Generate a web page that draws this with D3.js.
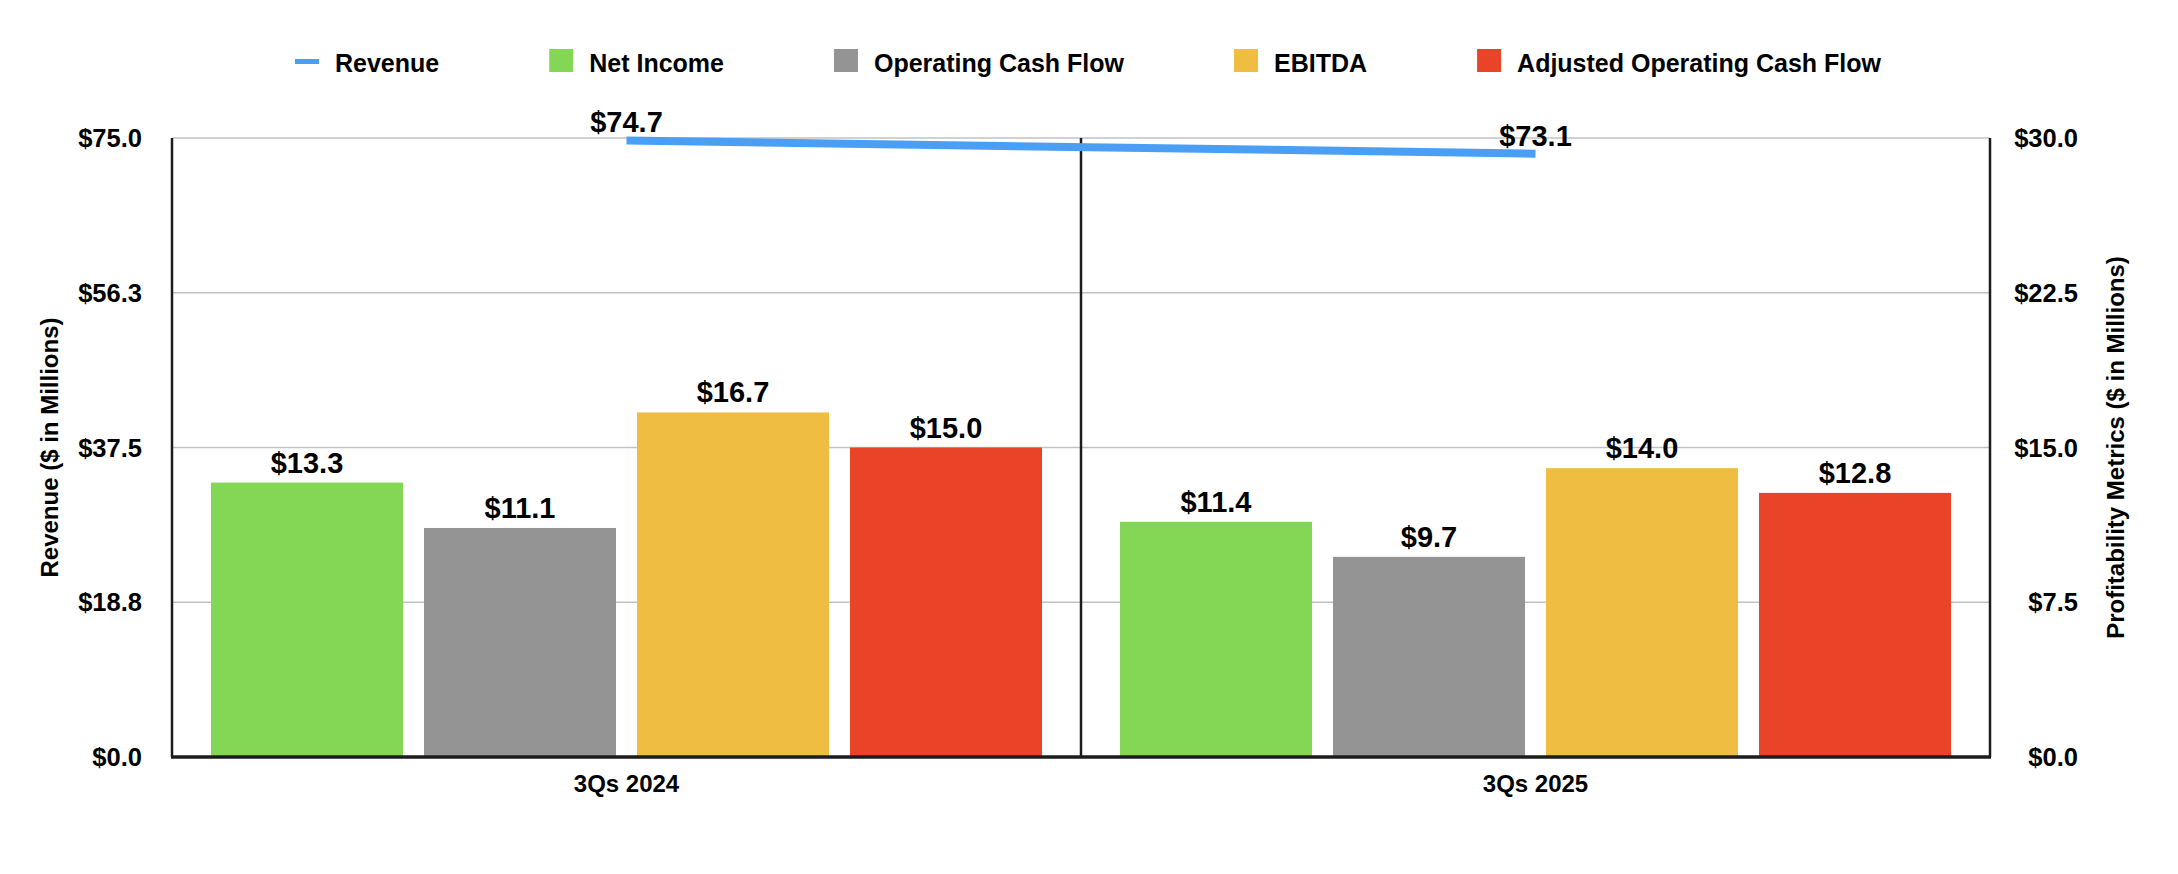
<!DOCTYPE html>
<html>
<head>
<meta charset="utf-8">
<script src="https://cdn.jsdelivr.net/npm/d3@7"></script>
<style>
	body { margin: 0; background: #ffffff; }
	svg text { font-family: "Liberation Sans", Arial, Helvetica, sans-serif; font-weight: bold; fill: #000000; }
</style>
</head>
<body>
<svg id="chart" width="2178" height="874"></svg>
<script>

// data
const periods = ["3Qs 2024", "3Qs 2025"];
const revenue = [74.7, 73.1];
const metrics = ["Net Income", "Operating Cash Flow", "EBITDA", "Adjusted Operating Cash Flow"];
const netIncome = [13.3, 11.4];
const operatingCashFlow = [11.1, 9.7];
const ebitda = [16.7, 14.0];
const adjustedOperatingCashFlow = [15.0, 12.8];
const revenueTicks = [0, 18.75, 37.5, 56.25, 75];
const metricTicks = [0, 7.5, 15, 22.5, 30];

const metric_colors = ["#84d754", "#949494", "#eebd42", "#e94428"];
const revenue_color = "#4a9ff5";

function whenDocumentLoaded(action) {
	if (document.readyState === "loading") {
		document.addEventListener("DOMContentLoaded", action);
	} else {
		action();
	}
}

function drawChart() {
	const svg = d3.select("#chart");

	const left = 172, right = 1990, top = 138, bottom = 757;
	const fmt = d3.format("$.1f");

	const metric_values = [netIncome, operatingCashFlow, ebitda, adjustedOperatingCashFlow];
	const bar_data = [];
	periods.forEach((p, i) => {
		metrics.forEach((m, j) => {
			bar_data.push({period: p, metric: m, value: metric_values[j][i], color: metric_colors[j]});
		});
	});

	const x_group = d3.scaleBand().domain(periods).range([left, right]).padding(0);
	const x_bar = d3.scaleBand().domain(metrics).range([0, x_group.bandwidth()])
		.paddingInner(0.0986).paddingOuter(0.183);

	const y_rev = d3.scaleLinear().domain([0, 75]).range([bottom, top]);
	const y_met = d3.scaleLinear().domain([0, 30]).range([bottom, top]);

	// gridlines
	svg.append("g")
		.selectAll("line")
		.data(revenueTicks.slice(1))
		.enter()
		.append("line")
			.attr("x1", left).attr("x2", right)
			.attr("y1", d => y_rev(d)).attr("y2", d => y_rev(d))
			.style("stroke", "#c2c2c2")
			.style("stroke-width", "1.5px");

	// bars
	svg.append("g")
		.selectAll("rect")
		.data(bar_data)
		.enter()
		.append("rect")
			.attr("x", d => x_group(d.period) + x_bar(d.metric))
			.attr("y", d => y_met(d.value))
			.attr("width", x_bar.bandwidth())
			.attr("height", d => bottom - y_met(d.value))
			.style("fill", d => d.color);

	svg.append("g")
		.selectAll("text")
		.data(bar_data)
		.enter()
		.append("text")
			.attr("x", d => x_group(d.period) + x_bar(d.metric) + x_bar.bandwidth() / 2)
			.attr("y", d => y_met(d.value) - 10)
			.attr("text-anchor", "middle")
			.style("font-size", "29px")
			.text(d => fmt(d.value));

	// frame lines
	const frame = svg.append("g").style("stroke", "#1c1c1c");
	frame.append("line").attr("x1", left).attr("x2", left).attr("y1", top).attr("y2", bottom).style("stroke-width", "2.5px");
	frame.append("line").attr("x1", right).attr("x2", right).attr("y1", top).attr("y2", bottom).style("stroke-width", "2.5px");
	frame.append("line").attr("x1", x_group(periods[1])).attr("x2", x_group(periods[1]))
		.attr("y1", top).attr("y2", bottom).style("stroke-width", "2.5px");
	frame.append("line").attr("x1", left - 1).attr("x2", right + 1).attr("y1", bottom).attr("y2", bottom).style("stroke-width", "3.5px");

	// revenue line
	const rev_points = periods.map((p, i) => [x_group(p) + x_group.bandwidth() / 2, y_rev(revenue[i])]);
	svg.append("path")
		.attr("d", d3.line()(rev_points))
		.style("fill", "none")
		.style("stroke", revenue_color)
		.style("stroke-width", "8px");

	svg.append("g")
		.selectAll("text")
		.data(rev_points)
		.enter()
		.append("text")
			.attr("x", d => d[0])
			.attr("y", d => d[1] - 8)
			.attr("text-anchor", "middle")
			.style("font-size", "29px")
			.text((d, i) => fmt(revenue[i]));

	// axes labels
	svg.append("g")
		.selectAll("text")
		.data(revenueTicks)
		.enter()
		.append("text")
			.attr("x", 142)
			.attr("y", d => y_rev(d) + 9)
			.attr("text-anchor", "end")
			.style("font-size", "25.5px")
			.text(d => fmt(d));

	svg.append("g")
		.selectAll("text")
		.data(metricTicks)
		.enter()
		.append("text")
			.attr("x", 2078)
			.attr("y", d => y_met(d) + 9)
			.attr("text-anchor", "end")
			.style("font-size", "25.5px")
			.text(d => fmt(d));

	svg.append("g")
		.selectAll("text")
		.data(periods)
		.enter()
		.append("text")
			.attr("x", d => x_group(d) + x_group.bandwidth() / 2)
			.attr("y", 792)
			.attr("text-anchor", "middle")
			.style("font-size", "24px")
			.text(d => d);

	const mid_y = (top + bottom) / 2;
	svg.append("text")
		.attr("transform", "translate(58," + mid_y + ") rotate(-90)")
		.attr("text-anchor", "middle")
		.style("font-size", "24px")
		.text("Revenue ($ in Millions)");

	svg.append("text")
		.attr("transform", "translate(2124," + mid_y + ") rotate(-90)")
		.attr("text-anchor", "middle")
		.style("font-size", "24px")
		.text("Profitability Metrics ($ in Millions)");

	// legend
	const legend_items = [{name: "Revenue", color: revenue_color, line: true}]
		.concat(metrics.map((m, j) => ({name: m, color: metric_colors[j], line: false})));

	let lx = 295;
	const legend = svg.append("g");
	legend_items.forEach(item => {
		if (item.line) {
			legend.append("rect").attr("x", lx).attr("y", 59).attr("width", 24).attr("height", 5).style("fill", item.color);
		} else {
			legend.append("rect").attr("x", lx).attr("y", 49).attr("width", 24).attr("height", 23).style("fill", item.color);
		}
		const t = legend.append("text")
			.attr("x", lx + 40)
			.attr("y", 72)
			.style("font-size", "25px")
			.text(item.name);
		lx = lx + 40 + t.node().getComputedTextLength() + 110;
	});
}

whenDocumentLoaded(drawChart);
</script>
</body>
</html>
